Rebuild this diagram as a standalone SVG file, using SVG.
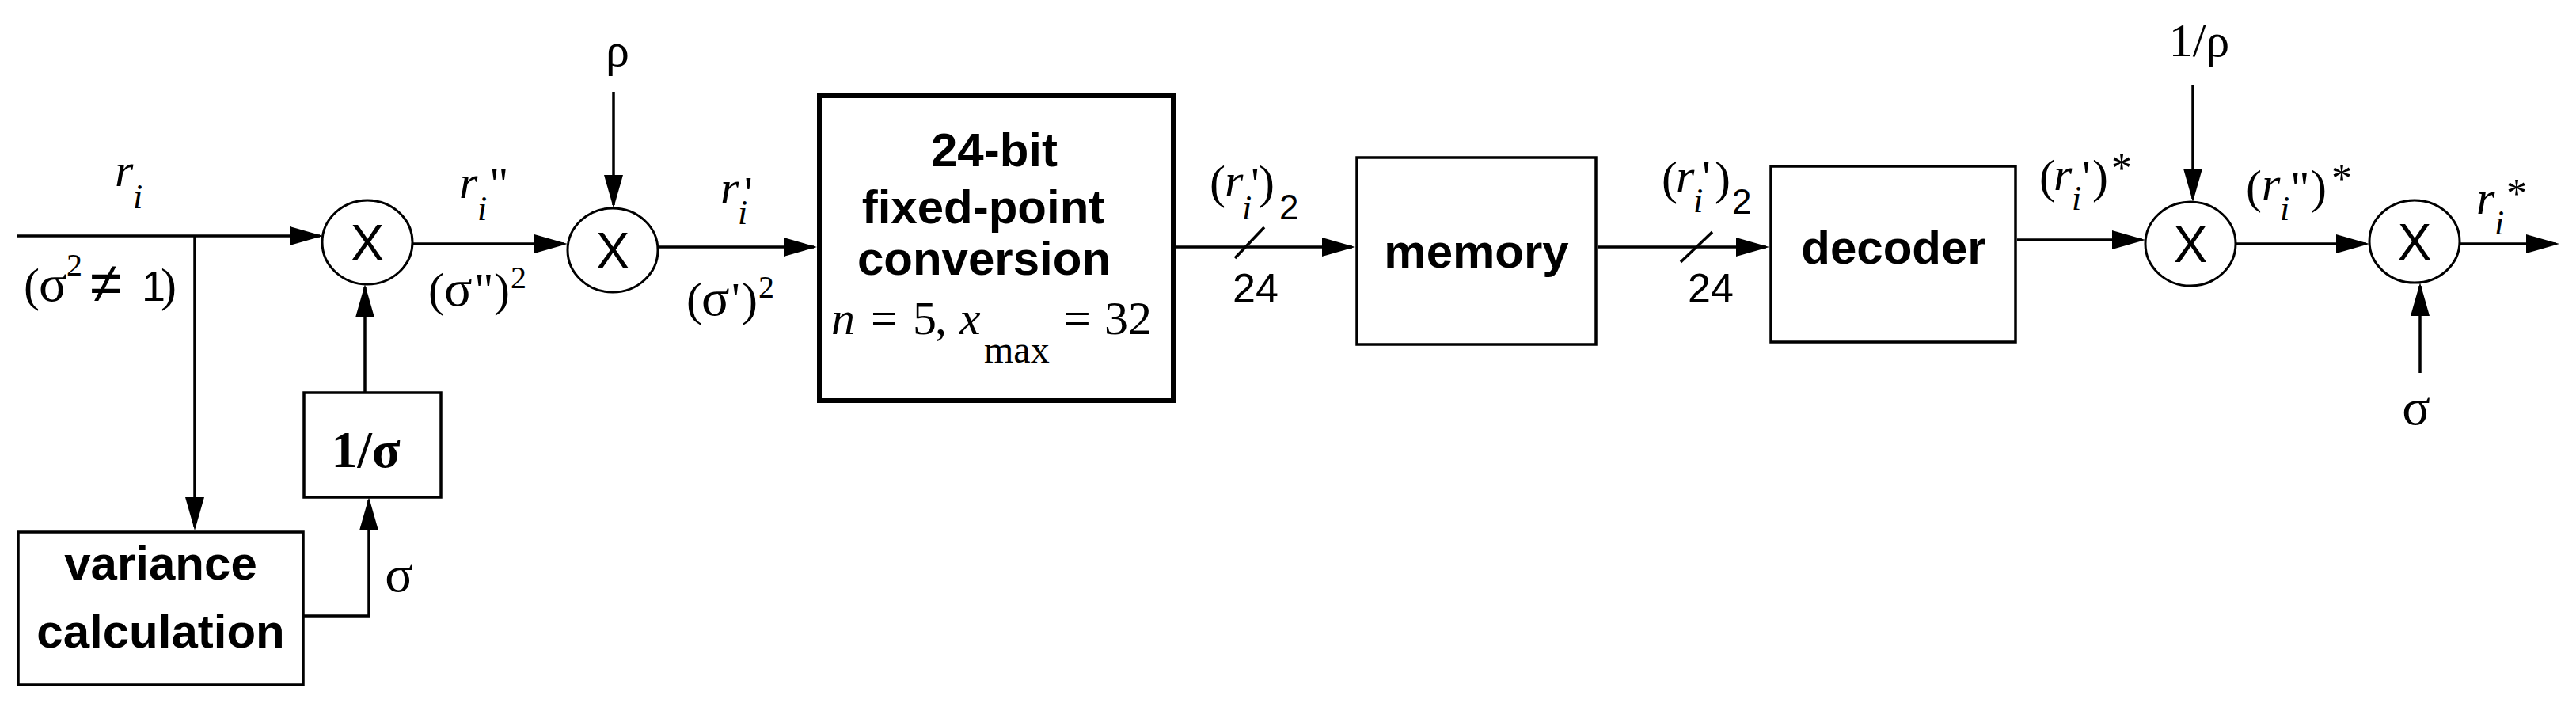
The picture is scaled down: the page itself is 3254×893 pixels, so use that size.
<svg xmlns="http://www.w3.org/2000/svg" width="3254" height="893" viewBox="0 0 3254 893">
<defs>
<marker id="ah" markerUnits="userSpaceOnUse" markerWidth="44" markerHeight="26" refX="38" refY="12" orient="auto"><path d="M0,0 L42,12 L0,24 z" fill="#000"/></marker>
</defs>
<style>
.ln{stroke:#000;stroke-width:3.5;fill:none}
.ar{marker-end:url(#ah)}
.box{fill:#fff;stroke:#000;stroke-width:3.5}
.thick{stroke-width:6}
.circ{fill:#fff;stroke:#000;stroke-width:3}
.bl{font-family:"Liberation Sans",Arial,sans-serif;font-weight:bold;font-size:60px;text-anchor:middle}
.xx{font-family:"Liberation Sans",Arial,sans-serif;font-size:64px;text-anchor:middle}
.sv{font-family:"Liberation Serif","Times New Roman",serif;font-size:60px}
.it{font-style:italic}
.sub{font-size:44px}
.sup{font-size:40px}
.sg{font-size:66px}
.ss{font-family:"Liberation Sans",Arial,sans-serif}
</style>
<rect width="3254" height="893" fill="#fff"/>

<g id="connectors">
<path class="ln ar" d="M22,298 H404"/>
<path class="ln ar" d="M246,298 V666"/>
<path class="ln ar" d="M383,778 H466 V632"/>
<path class="ln ar" d="M461,496 V363"/>
<path class="ln ar" d="M521,308 H713"/>
<path class="ln ar" d="M775,116 V259"/>
<path class="ln ar" d="M831,312 H1028"/>
<path class="ln ar" d="M1482,312 H1708"/>
<path class="ln" d="M1560,326 L1597,287"/>
<path class="ln ar" d="M2018,312 H2231"/>
<path class="ln" d="M2123,331 L2163,293"/>
<path class="ln ar" d="M2548,303 H2706"/>
<path class="ln ar" d="M2770,107 V251"/>
<path class="ln ar" d="M2824,308 H2989"/>
<path class="ln ar" d="M3057,471 V361"/>
<path class="ln ar" d="M3107,308 H3229"/>
</g>

<g id="n-variance">
<rect class="box" x="23" y="672" width="360" height="193"/>
<text class="bl" x="203" y="732">variance</text>
<text class="bl" x="203" y="818">calculation</text>
</g>

<g id="n-invsigma">
<rect class="box" x="384" y="496" width="173" height="132"/>
<text x="462" y="590" font-family="'Liberation Serif','Times New Roman',serif" font-weight="bold" font-size="66" text-anchor="middle">1/σ</text>
</g>

<g id="n-mult1">
<ellipse class="circ" cx="464" cy="306" rx="57" ry="53"/>
<text class="xx" x="464" y="329">X</text>
</g>

<g id="n-mult2">
<ellipse class="circ" cx="774" cy="316" rx="57" ry="53"/>
<text class="xx" x="774" y="339">X</text>
</g>

<g id="n-conv">
<rect class="box thick" x="1035" y="121" width="447" height="385"/>
<text class="bl" x="1256" y="210">24-bit</text>
<text class="bl" x="1242" y="282">fixed-point</text>
<text class="bl" x="1243" y="347">conversion</text>
<text class="sv" y="422"><tspan class="it" x="1050">n</tspan><tspan x="1100">=</tspan><tspan x="1153">5</tspan><tspan x="1181">,</tspan><tspan class="it" x="1212">x</tspan><tspan x="1243" y="458" font-size="48">max</tspan><tspan x="1344" y="422">=</tspan><tspan x="1395">32</tspan></text>
</g>

<g id="n-memory">
<rect class="box" x="1714" y="199" width="302" height="236"/>
<text class="bl" x="1865" y="338">memory</text>
</g>

<g id="n-decoder">
<rect class="box" x="2237" y="210" width="309" height="222"/>
<text class="bl" x="2392" y="333">decoder</text>
</g>

<g id="n-mult3">
<ellipse class="circ" cx="2767" cy="308" rx="57" ry="53"/>
<text class="xx" x="2767" y="331">X</text>
</g>

<g id="n-mult4">
<ellipse class="circ" cx="3050" cy="305" rx="57" ry="52"/>
<text class="xx" x="3050" y="328">X</text>
</g>

<g id="labels">
<text class="sv"><tspan class="it" x="145" y="235">r</tspan><tspan class="it sub" x="168" y="263">i</tspan></text>
<text class="sv" y="380"><tspan x="30">(</tspan><tspan class="sg" x="49">σ</tspan><tspan class="sup" x="84" y="348">2</tspan><tspan class="ss" x="114" y="382" font-size="72">≠</tspan><tspan class="ss" x="179" y="380" font-size="54">1</tspan><tspan x="203">)</tspan></text>
<text class="sv"><tspan class="it" x="580" y="250">r</tspan><tspan class="it sub" x="603" y="278">i</tspan><tspan x="618" y="252">"</tspan></text>
<text class="sv" y="386"><tspan x="541">(</tspan><tspan class="sg" x="561">σ</tspan><tspan x="599">"</tspan><tspan x="624">)</tspan><tspan class="sup" x="645" y="364">2</tspan></text>
<text class="sv" x="780" y="83" text-anchor="middle">ρ</text>
<text class="sv"><tspan class="it" x="910" y="257">r</tspan><tspan class="it sub" x="932" y="283">i</tspan><tspan x="940" y="264">'</tspan></text>
<text class="sv" y="398"><tspan x="867">(</tspan><tspan class="sg" x="886">σ</tspan><tspan x="924">'</tspan><tspan x="937">)</tspan><tspan class="sup" x="958" y="376">2</tspan></text>
<text class="sv"><tspan x="1528" y="250">(</tspan><tspan class="it" x="1547" y="248">r</tspan><tspan class="it sub" x="1569" y="277">i</tspan><tspan x="1580" y="252">'</tspan><tspan x="1590" y="250">)</tspan><tspan class="ss sub" x="1616" y="277">2</tspan></text>
<text class="ss" x="1557" y="382" font-size="52">24</text>
<text class="sv"><tspan x="2099" y="245">(</tspan><tspan class="it" x="2117" y="242">r</tspan><tspan class="it sub" x="2139" y="268">i</tspan><tspan x="2150" y="244">'</tspan><tspan x="2166" y="245">)</tspan><tspan class="ss sub" x="2188" y="270">2</tspan></text>
<text class="ss" x="2132" y="382" font-size="52">24</text>
<text class="sv"><tspan x="2576" y="243">(</tspan><tspan class="it" x="2594" y="240">r</tspan><tspan class="it sub" x="2617" y="265">i</tspan><tspan x="2630" y="243">'</tspan><tspan x="2643" y="243">)</tspan><tspan x="2667" y="230" font-size="52">*</tspan></text>
<text class="sv" x="2778" y="71" text-anchor="middle" font-size="58">1/ρ</text>
<text class="sv"><tspan x="2837" y="256">(</tspan><tspan class="it" x="2857" y="252">r</tspan><tspan class="it sub" x="2880" y="278">i</tspan><tspan x="2893" y="258">"</tspan><tspan x="2919" y="256">)</tspan><tspan x="2945" y="243" font-size="52">*</tspan></text>
<text class="sv"><tspan class="it" x="3128" y="270">r</tspan><tspan class="it sub" x="3151" y="296">i</tspan><tspan x="3166" y="262" font-size="52">*</tspan></text>
<text class="sv sg" x="3052" y="536" text-anchor="middle">σ</text>
<text class="sv sg" x="504" y="747" text-anchor="middle">σ</text>
</g>
</svg>
